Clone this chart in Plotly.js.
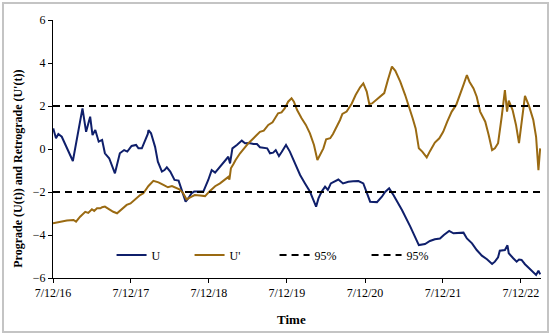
<!DOCTYPE html>
<html>
<head>
<meta charset="utf-8">
<script src="https://cdn.plot.ly/plotly-3.0.1.min.js"></script>
<style>
html,body{margin:0;padding:0;background:#fff;}
#wrap{position:relative;width:550px;height:335px;}
#frame{position:absolute;left:2px;top:2px;width:543px;height:327px;border:2px solid #c4c4c4;pointer-events:none;}
#chart{position:absolute;left:0;top:0;width:550px;height:335px;}
</style>
</head>
<body>
<div id="wrap"><div id="chart"></div><div id="frame"></div></div>
<script>
// Prograde U(t)
const uDates = ['2016-07-13','2016-07-26','2016-08-06','2016-08-22','2016-10-13','2016-11-27','2016-12-14','2017-01-02','2017-01-13','2017-01-26','2017-02-11','2017-02-27','2017-03-12','2017-04-01','2017-04-28','2017-05-21','2017-06-10','2017-06-25','2017-07-15','2017-08-05','2017-08-16','2017-09-01','2017-09-29','2017-10-02','2017-10-14','2017-11-02','2017-11-15','2017-12-04','2017-12-16','2017-12-27','2018-01-12','2018-02-01','2018-02-20','2018-03-06','2018-03-25','2018-04-06','2018-04-22','2018-05-04','2018-06-16','2018-07-09','2018-07-25','2018-08-10','2018-09-10','2018-10-11','2018-10-19','2018-10-30','2018-11-20','2018-12-13','2018-12-28','2019-01-16','2019-02-06','2019-02-22','2019-03-08','2019-03-31','2019-04-11','2019-04-24','2019-05-09','2019-05-21','2019-06-05','2019-06-17','2019-07-08','2019-07-26','2019-08-11','2019-09-12','2019-10-05','2019-10-28','2019-11-13','2019-11-26','2019-12-07','2019-12-22','2020-01-07','2020-01-20','2020-02-03','2020-02-20','2020-03-09','2020-03-31','2020-04-25','2020-05-17','2020-06-11','2020-07-04','2020-07-20','2020-08-05','2020-09-06','2020-09-29','2020-10-14','2020-11-02','2020-11-22','2021-01-01','2021-02-09','2021-03-03','2021-03-21','2021-04-19','2021-05-12','2021-06-04','2021-06-28','2021-07-16','2021-08-10','2021-08-30','2021-09-21','2021-10-16','2021-11-01','2021-11-25','2021-12-17','2022-01-10','2022-02-03','2022-02-27','2022-03-12','2022-03-27','2022-04-04','2022-04-28','2022-05-10','2022-05-16','2022-06-06','2022-06-22','2022-07-03','2022-07-15','2022-07-31','2022-08-20','2022-09-08','2022-09-21','2022-10-02','2022-10-10'];
const uValues = [0.96,0.5,0.7,0.57,-0.56,1.89,0.8,1.5,0.65,0.88,0.34,0.42,-0.2,-0.43,-1.13,-0.2,-0.05,-0.12,0.14,0.19,0.03,0.03,0.7,0.88,0.73,0.1,-0.59,-1.05,-0.98,-0.85,-1.05,-1.44,-1.47,-1.9,-2.45,-2.3,-2.06,-1.98,-1.98,-1.44,-0.98,-1.1,-0.74,-0.36,-0.67,0.03,0.19,0.39,0.27,0.28,0.23,0.23,0.08,0.07,0.03,-0.2,-0.17,-0.05,-0.33,-0.15,0.19,-0.12,-0.51,-1.21,-1.6,-1.98,-2.37,-2.68,-2.3,-1.98,-1.75,-1.9,-1.6,-1.52,-1.42,-1.6,-1.52,-1.5,-1.49,-1.6,-1.98,-2.45,-2.47,-2.22,-2.0,-1.83,-2.14,-2.84,-3.61,-4.08,-4.47,-4.42,-4.28,-4.2,-4.16,-4.0,-3.81,-3.92,-3.92,-3.89,-4.16,-4.39,-4.7,-4.96,-5.13,-5.35,-5.24,-5.04,-4.73,-4.7,-4.48,-4.85,-5.08,-5.24,-5.14,-5.16,-5.36,-5.55,-5.71,-5.86,-5.66,-5.83];

// Retrograde U'(t)
const upDates = ['2016-07-12','2016-07-26','2016-08-13','2016-09-15','2016-10-16','2016-10-28','2016-11-16','2016-12-10','2016-12-24','2017-01-10','2017-01-21','2017-02-03','2017-02-19','2017-02-27','2017-03-12','2017-03-27','2017-04-20','2017-05-08','2017-05-29','2017-06-22','2017-07-10','2017-07-31','2017-08-24','2017-09-08','2017-10-02','2017-10-25','2017-11-18','2017-12-11','2018-01-01','2018-01-20','2018-02-04','2018-02-24','2018-03-13','2018-03-29','2018-04-22','2018-05-07','2018-05-31','2018-06-24','2018-07-17','2018-08-10','2018-09-02','2018-09-26','2018-10-11','2018-10-16','2018-10-23','2018-11-04','2018-11-14','2018-12-05','2018-12-28','2019-01-13','2019-02-06','2019-02-22','2019-03-08','2019-03-26','2019-04-16','2019-05-06','2019-05-17','2019-06-01','2019-06-17','2019-07-02','2019-07-18','2019-08-03','2019-08-14','2019-08-29','2019-09-19','2019-10-09','2019-10-28','2019-11-16','2019-12-02','2019-12-14','2019-12-30','2020-01-12','2020-01-31','2020-02-13','2020-03-02','2020-03-17','2020-03-28','2020-04-17','2020-05-11','2020-05-29','2020-06-19','2020-07-04','2020-07-20','2020-08-01','2020-08-14','2020-09-06','2020-09-29','2020-10-10','2020-10-27','2020-11-15','2020-12-01','2020-12-24','2021-01-16','2021-02-04','2021-02-20','2021-03-06','2021-03-21','2021-04-06','2021-04-27','2021-05-12','2021-06-04','2021-06-25','2021-07-13','2021-08-01','2021-08-22','2021-09-12','2021-09-30','2021-10-16','2021-11-01','2021-11-13','2021-12-02','2021-12-17','2022-01-02','2022-01-26','2022-02-11','2022-02-27','2022-03-12','2022-03-27','2022-04-13','2022-04-28','2022-05-08','2022-05-16','2022-06-03','2022-06-19','2022-07-03','2022-07-31','2022-08-20','2022-09-08','2022-09-21','2022-10-02','2022-10-10'];
const upValues = [-3.45,-3.42,-3.38,-3.33,-3.3,-3.38,-3.15,-2.92,-2.97,-2.8,-2.88,-2.76,-2.76,-2.71,-2.68,-2.78,-2.92,-2.99,-2.8,-2.6,-2.53,-2.34,-2.14,-2.06,-1.72,-1.48,-1.55,-1.67,-1.78,-1.72,-1.78,-1.88,-2.05,-2.34,-2.22,-2.14,-2.16,-2.19,-1.95,-1.73,-1.6,-1.44,-1.3,-1.42,-0.9,-0.7,-0.51,-0.2,0.08,0.27,0.5,0.65,0.8,0.85,1.12,1.24,1.43,1.66,1.7,1.89,2.2,2.36,2.2,1.81,1.43,1.12,0.73,0.19,-0.51,-0.28,0.03,0.45,0.5,0.7,1.04,1.35,1.63,1.74,2.12,2.51,2.87,3.05,2.67,2.09,2.12,2.31,2.47,2.6,3.21,3.83,3.64,3.13,2.51,1.97,1.43,0.96,0.03,-0.12,-0.39,-0.1,0.3,0.5,0.8,1.27,1.74,2.05,2.51,2.98,3.44,3.13,2.82,2.43,1.74,1.27,0.65,-0.05,0.03,0.27,1.5,2.74,1.74,2.25,1.81,1.12,0.27,2.47,1.97,1.35,0.57,-0.98,0.03];

// 95% confidence bounds
const ciDates = ['2016-07-12','2022-10-14'];
const ciUpper = [2, 2];
const ciLower = [-2, -2];

// axis ticks
const tickDates = ['2016-07-12','2017-07-12','2018-07-12','2019-07-12','2020-07-12','2021-07-12','2022-07-12'];
const tickLabels = ['7/12/16','7/12/17','7/12/18','7/12/19','7/12/20','7/12/21','7/12/22'];
const yTicks = [-6,-4,-2,0,2,4,6];

const serif = 'Liberation Serif';

const traces = [
  {x: uDates, y: uValues, name: 'U', mode: 'lines', line: {color: '#0f1f6b', width: 2}, legend: 'legend'},
  {x: upDates, y: upValues, name: "U'", mode: 'lines', line: {color: '#9a6a12', width: 2}, legend: 'legend'},
  {x: ciDates, y: ciUpper, name: '95%', mode: 'lines', line: {color: '#000', width: 2, dash: '7px,5px'}, legend: 'legend2'},
  {x: ciDates, y: ciLower, name: '95%', mode: 'lines', line: {color: '#000', width: 2, dash: '7px,5px'}, legend: 'legend2'}
];

const legendCommon = {orientation: 'h', xanchor: 'left', yanchor: 'middle', y: 0.089,
  font: {family: serif, size: 12, color: '#000'}, bgcolor: 'rgba(0,0,0,0)',
  entrywidthmode: 'pixels', itemwidth: 30};

const layout = {
  width: 550, height: 335,
  margin: {l: 53, r: 9, t: 20, b: 57},
  paper_bgcolor: 'rgba(0,0,0,0)', plot_bgcolor: 'rgba(0,0,0,0)',
  font: {family: serif, size: 12, color: '#000'},
  showlegend: true,
  legend: Object.assign({}, legendCommon, {x: 0.12, entrywidth: 33}),
  legend2: Object.assign({}, legendCommon, {x: 0.454, entrywidth: 47}),
  xaxis: {type: 'date', range: ['2016-07-12','2022-10-14'], tickmode: 'array',
          tickvals: tickDates, ticktext: tickLabels, ticks: 'outside', ticklen: 4, tickwidth: 1,
          tickcolor: '#000', showline: true, linecolor: '#000', linewidth: 1, showgrid: false,
          zeroline: false, tickfont: {family: serif, size: 12, color: '#000'}},
  yaxis: {range: [-6, 6], tickmode: 'array', tickvals: yTicks, ticks: 'outside', ticklen: 4,
          tickwidth: 1, tickcolor: '#000', showline: true, linecolor: '#000', linewidth: 1,
          showgrid: false, zeroline: false, tickfont: {family: serif, size: 12, color: '#000'}},
  annotations: [
    {text: '<b>Time</b>', xref: 'paper', yref: 'paper', x: 0.488, y: -0.125, xanchor: 'center',
     yanchor: 'top', showarrow: false, font: {family: serif, size: 13, color: '#000'}},
    {text: "<b>Prograde (U(t)) and Retrograde (U'(t))</b>", xref: 'paper', yref: 'paper',
     x: -0.072, y: 0.423, xanchor: 'center', yanchor: 'middle', textangle: -90, showarrow: false,
     font: {family: serif, size: 12, color: '#000'}}
  ]
};

Plotly.newPlot('chart', traces, layout, {displayModeBar: false, staticPlot: true});
</script>
</body>
</html>
